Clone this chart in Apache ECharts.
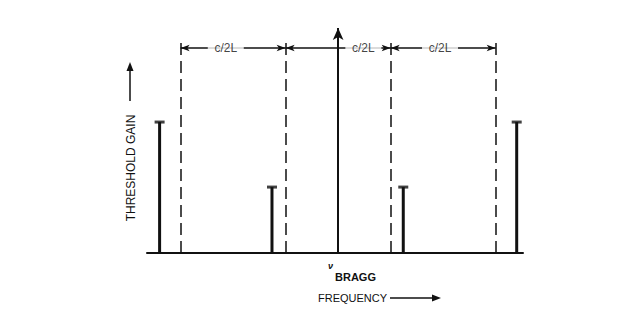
<!DOCTYPE html>
<html>
<head>
<meta charset="utf-8">
<script src="https://cdn.jsdelivr.net/npm/echarts@6/dist/echarts.min.js"></script>
<style>
html,body{margin:0;padding:0;background:#fff;}
#chart{width:640px;height:320px;}
</style>
</head>
<body>
<div id="chart"></div>
<script>
// Frequency in units of c/2L relative to the Bragg frequency
const sideModeFreq = [-1.70, -0.63, 0.62, 1.70];
const sideModeGain = [5.82, 2.93, 2.93, 5.82];
const braggFreq = 0;
const braggGain = 10;
const boundaryFreq = [-1.5, -0.5, 0.5, 1.5];
const boundaryTop = 9.56;
const spacingLevel = 9.11;
const spacingSpans = [[-1.5, -0.5], [-0.5, 0.5], [0.5, 1.5]];
const spacingLabelFreq = [-1.07, 0.24, 0.97];
const spacingLabel = 'c/2L';
const yAxisTitle = 'THRESHOLD GAIN';
const xAxisTitle = 'FREQUENCY';
const braggLabel = 'BRAGG';
const nuSymbol = 'ν';

const INK = '#111';
const FONT = '"Liberation Sans", Arial, sans-serif';

const chart = echarts.init(document.getElementById('chart'), null, {renderer: 'svg'});

const option = {
  backgroundColor: '#fff',
  animation: false,
  grid: {left: 147, right: 117, top: 28, bottom: 67},
  xAxis: {
    type: 'value', min: -1.82, max: 1.76,
    axisLine: {show: true, onZero: true, lineStyle: {color: INK, width: 2}},
    axisTick: {show: false}, axisLabel: {show: false}, splitLine: {show: false}
  },
  yAxis: {
    type: 'value', min: 0, max: 10,
    axisLine: {show: false}, axisTick: {show: false}, axisLabel: {show: false}, splitLine: {show: false}
  },
  series: [
    {
      type: 'bar',
      barWidth: 3,
      z: 3,
      itemStyle: {color: INK},
      data: sideModeFreq.map((f, i) => [f, sideModeGain[i]]),
      markLine: {
        silent: true,
        symbol: ['none', 'none'],
        label: {show: false},
        lineStyle: {color: INK, width: 1.5, type: [12, 6]},
        data: boundaryFreq.map(f => [{coord: [f, 0]}, {coord: [f, boundaryTop]}])
      }
    },
    {
      type: 'scatter',
      symbol: 'rect',
      symbolSize: [10, 3],
      itemStyle: {color: INK},
      data: sideModeFreq.map((f, i) => [f, sideModeGain[i]]),
      z: 3
    },
    {
      type: 'line',
      data: [],
      z: 2,
      markLine: {
        silent: true,
        symbol: ['arrow', 'arrow'],
        symbolSize: [5, 9],
        label: {show: false},
        lineStyle: {color: INK, width: 1.5, type: 'solid'},
        data: spacingSpans.map(s => [{coord: [s[0], spacingLevel]}, {coord: [s[1], spacingLevel]}])
      }
    },
    {
      type: 'scatter',
      symbol: 'rect',
      symbolSize: [36, 10],
      itemStyle: {color: '#fff'},
      z: 6,
      label: {
        show: true, position: 'inside', formatter: () => spacingLabel,
        color: INK, fontFamily: FONT, fontSize: 12,
        textBorderWidth: 0, textShadowBlur: 0
      },
      data: spacingLabelFreq.map(f => [f, spacingLevel])
    },
    {
      type: 'line',
      data: [],
      z: 5,
      markLine: {
        silent: true,
        symbol: ['none', 'arrow'],
        symbolSize: [8, 12],
        label: {show: false},
        lineStyle: {color: INK, width: 2, type: 'solid'},
        data: [[{coord: [braggFreq, 0]}, {coord: [braggFreq, braggGain]}]]
      }
    }
  ],
  graphic: [
    {
      type: 'text', x: 131, y: 168, rotation: Math.PI / 2,
      style: {text: yAxisTitle, fill: INK, font: '12px ' + FONT, align: 'center', verticalAlign: 'middle'}
    },
    {type: 'line', shape: {x1: 130, y1: 101, x2: 130, y2: 70}, style: {stroke: INK, lineWidth: 1.5}},
    {type: 'polygon', shape: {points: [[130, 62], [126.5, 71], [133.5, 71]]}, style: {fill: INK}},
    {
      type: 'text', x: 328, y: 266,
      style: {text: nuSymbol, fill: INK, font: 'italic bold 9px ' + FONT, align: 'left', verticalAlign: 'middle'}
    },
    {
      type: 'text', x: 335, y: 277,
      style: {text: braggLabel, fill: INK, font: 'bold 11px ' + FONT, align: 'left', verticalAlign: 'middle'}
    },
    {
      type: 'text', x: 318, y: 298,
      style: {text: xAxisTitle, fill: INK, font: '11px ' + FONT, align: 'left', verticalAlign: 'middle'}
    },
    {type: 'line', shape: {x1: 390, y1: 298, x2: 432, y2: 298}, style: {stroke: INK, lineWidth: 1.5}},
    {type: 'polygon', shape: {points: [[441, 298], [432, 294.5], [432, 301.5]]}, style: {fill: INK}}
  ]
};
chart.setOption(option);
</script>
</body>
</html>
